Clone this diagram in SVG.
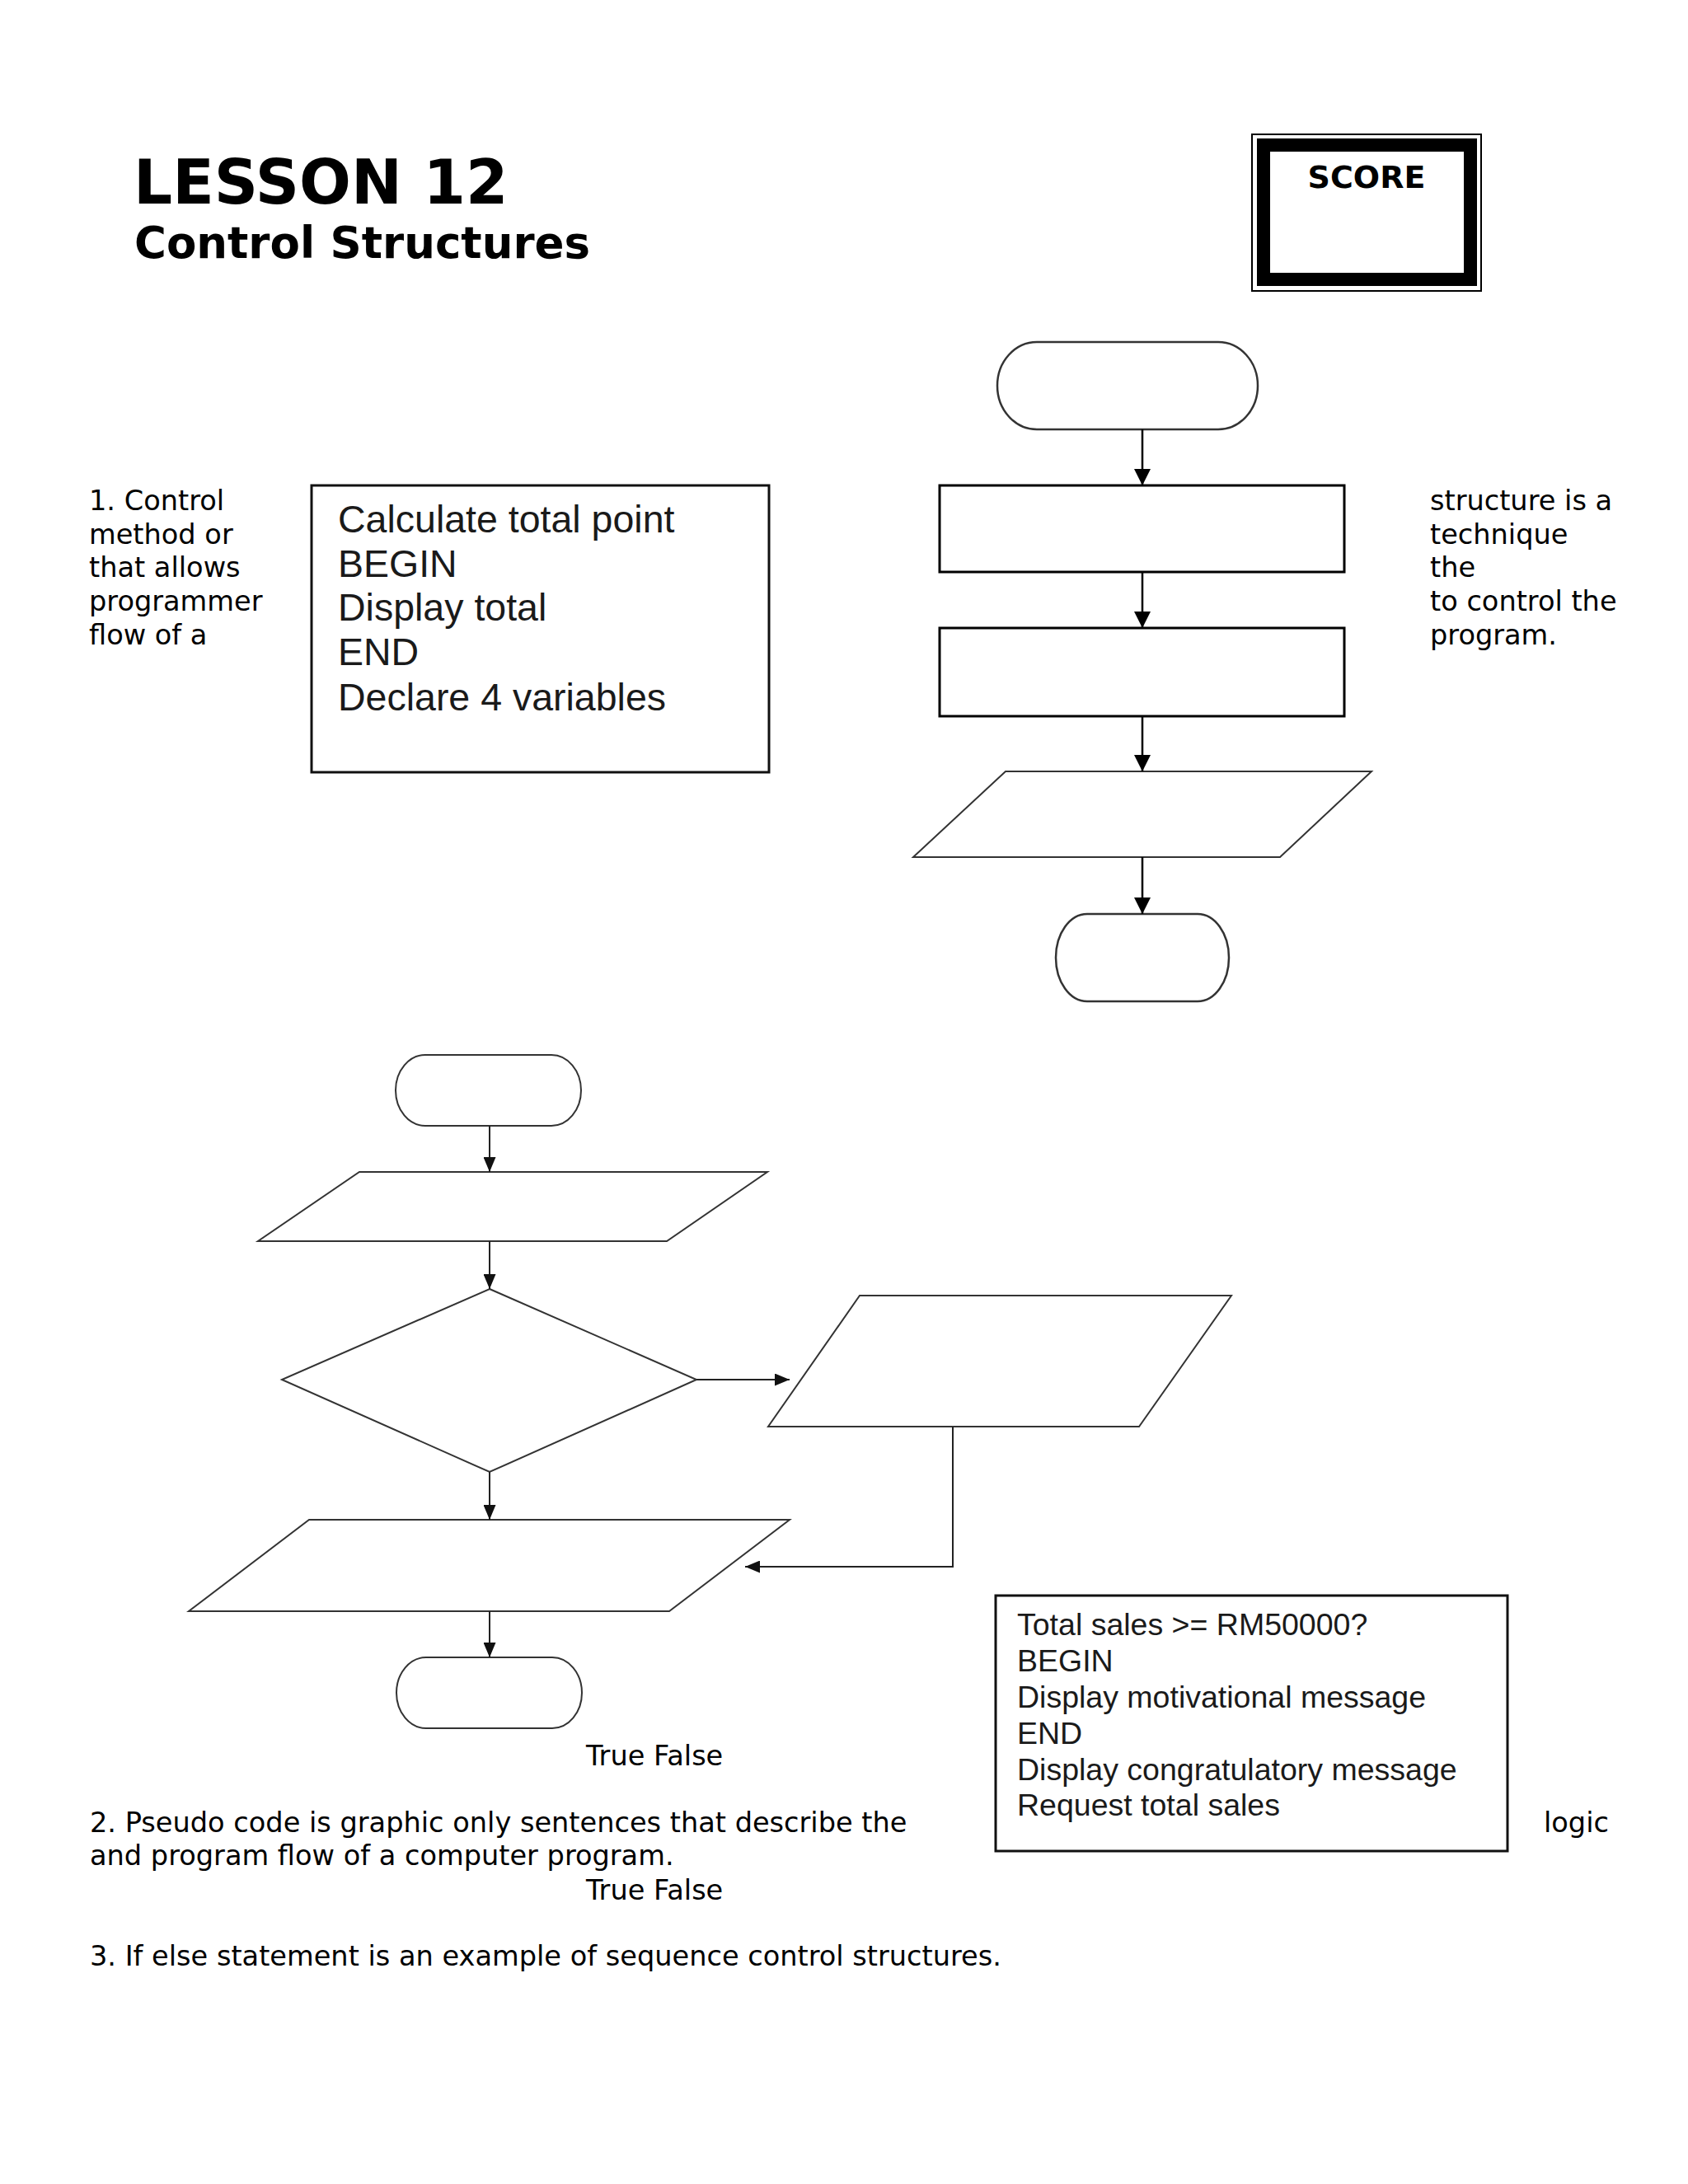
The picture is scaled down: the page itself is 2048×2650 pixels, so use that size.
<svg xmlns="http://www.w3.org/2000/svg" width="2048" height="2650" viewBox="0 0 2048 2650">
<defs>
<style>
.v{font-family:"DejaVu Sans","Liberation Sans",sans-serif;fill:#000}
.vb{font-family:"DejaVu Sans","Liberation Sans",sans-serif;font-weight:bold;fill:#000}
.a{font-family:"Liberation Sans",Arial,sans-serif;fill:#1a1a1a}
.box{fill:#fff;stroke:#111;stroke-width:3}
.shp{fill:#fff;stroke:#333;stroke-width:2}
.shpk{fill:#fff;stroke:#000;stroke-width:3}
.con{fill:none;stroke:#000;stroke-width:2.5}
.con2{fill:none;stroke:#222;stroke-width:2}
</style>
<marker id="ah" viewBox="0 0 20 20" refX="20" refY="10" markerWidth="20" markerHeight="20" orient="auto" markerUnits="userSpaceOnUse"><path d="M0,0 L20,10 L0,20 z" fill="#000"/></marker>
<marker id="ah2" viewBox="0 0 18 15" refX="18" refY="7.5" markerWidth="18" markerHeight="15" orient="auto" markerUnits="userSpaceOnUse"><path d="M0,0 L18,7.5 L0,15 z" fill="#111"/></marker>
</defs>
<rect width="2048" height="2650" fill="#fff"/>

<g id="title">
<text class="vb" x="162" y="247" font-size="74">LESSON 12</text>
<text class="vb" x="163" y="313" font-size="53">Control Structures</text>
</g>

<g id="score">
<rect x="1519" y="163" width="278" height="190" fill="#fff" stroke="#000" stroke-width="2"/>
<rect x="1533" y="176" width="251" height="163" fill="#fff" stroke="#000" stroke-width="16"/>
<text class="vb" x="1658" y="228" font-size="38" text-anchor="middle">SCORE</text>
</g>

<g id="q1-left">
<text class="v" font-size="33.6"><tspan x="108" y="619">1. Control</tspan><tspan x="108" y="659.5">method or</tspan><tspan x="108" y="700">that allows</tspan><tspan x="108" y="741">programmer</tspan><tspan x="108" y="781.5">flow of a</tspan></text>
</g>

<g id="q1-right">
<text class="v" font-size="33.6"><tspan x="1735" y="619">structure is a</tspan><tspan x="1735" y="659.5">technique</tspan><tspan x="1735" y="700">the</tspan><tspan x="1735" y="741">to control the</tspan><tspan x="1735" y="781.5">program.</tspan></text>
</g>

<g id="pseudo1">
<rect class="box" x="378" y="589" width="555" height="348"/>
<text class="a" font-size="46.5"><tspan x="410" y="646">Calculate total point</tspan><tspan x="410" y="700">BEGIN</tspan><tspan x="410" y="753">Display total</tspan><tspan x="410" y="807">END</tspan><tspan x="410" y="862">Declare 4 variables</tspan></text>
</g>

<g id="f1-start"><rect x="1210" y="415" width="316" height="106" rx="48" ry="53" fill="#fff" stroke="#333" stroke-width="2.5"/></g>
<g id="f1-proc1"><rect class="shpk" x="1140" y="589" width="491" height="105"/></g>
<g id="f1-proc2"><rect class="shpk" x="1140" y="762" width="491" height="107"/></g>
<g id="f1-io"><polygon class="shp" points="1220,936 1664,936 1553,1040 1108,1040"/></g>
<g id="f1-end"><rect x="1281" y="1109" width="210" height="106" rx="38" ry="53" fill="#fff" stroke="#333" stroke-width="2.5"/></g>

<g id="f2-start"><rect x="480" y="1280" width="225" height="86" rx="36" ry="43" class="shp"/></g>
<g id="f2-input"><polygon class="shp" points="436,1422 931,1422 809,1506 313,1506"/></g>
<g id="f2-decision"><polygon class="shp" points="594,1564 845,1674 594,1786 342,1674"/></g>
<g id="f2-output-true"><polygon class="shp" points="1043,1572 1494,1572 1382,1731 932,1731"/></g>
<g id="f2-output-false"><polygon class="shp" points="375,1844 958,1844 812,1955 229,1955"/></g>
<g id="f2-end"><rect x="481" y="2011" width="225" height="86" rx="36" ry="43" class="shp"/></g>

<g id="connectors">
<line class="con" x1="1386" y1="521" x2="1386" y2="589" marker-end="url(#ah)"/>
<line class="con" x1="1386" y1="694" x2="1386" y2="762" marker-end="url(#ah)"/>
<line class="con" x1="1386" y1="869" x2="1386" y2="936" marker-end="url(#ah)"/>
<line class="con" x1="1386" y1="1040" x2="1386" y2="1109" marker-end="url(#ah)"/>
<line class="con2" x1="594" y1="1366" x2="594" y2="1422" marker-end="url(#ah2)"/>
<line class="con2" x1="594" y1="1506" x2="594" y2="1564" marker-end="url(#ah2)"/>
<line class="con2" x1="594" y1="1786" x2="594" y2="1844" marker-end="url(#ah2)"/>
<line class="con2" x1="594" y1="1955" x2="594" y2="2011" marker-end="url(#ah2)"/>
<line class="con2" x1="845" y1="1674" x2="958" y2="1674" marker-end="url(#ah2)"/>
<polyline class="con2" points="1156,1731 1156,1901 904,1901" marker-end="url(#ah2)"/>
</g>

<g id="pseudo2">
<rect class="box" x="1208" y="1936" width="621" height="310"/>
<text class="a" font-size="37.5"><tspan x="1234" y="1984">Total sales &gt;= RM50000?</tspan><tspan x="1234" y="2028">BEGIN</tspan><tspan x="1234" y="2072">Display motivational message</tspan><tspan x="1234" y="2116">END</tspan><tspan x="1234" y="2160">Display congratulatory message</tspan><tspan x="1234" y="2203">Request total sales</tspan></text>
</g>

<g id="questions">
<text class="v" x="711" y="2142" font-size="33.6">True False</text>
<text class="v" x="1873" y="2223" font-size="33.6">logic</text>
<text class="v" x="109" y="2223" font-size="33.6">2. Pseudo code is graphic only sentences that describe the</text>
<text class="v" x="109" y="2263" font-size="33.6">and program flow of a computer program.</text>
<text class="v" x="711" y="2305" font-size="33.6">True False</text>
<text class="v" x="109" y="2385" font-size="33.6">3. If else statement is an example of sequence control structures.</text>
</g>
</svg>
